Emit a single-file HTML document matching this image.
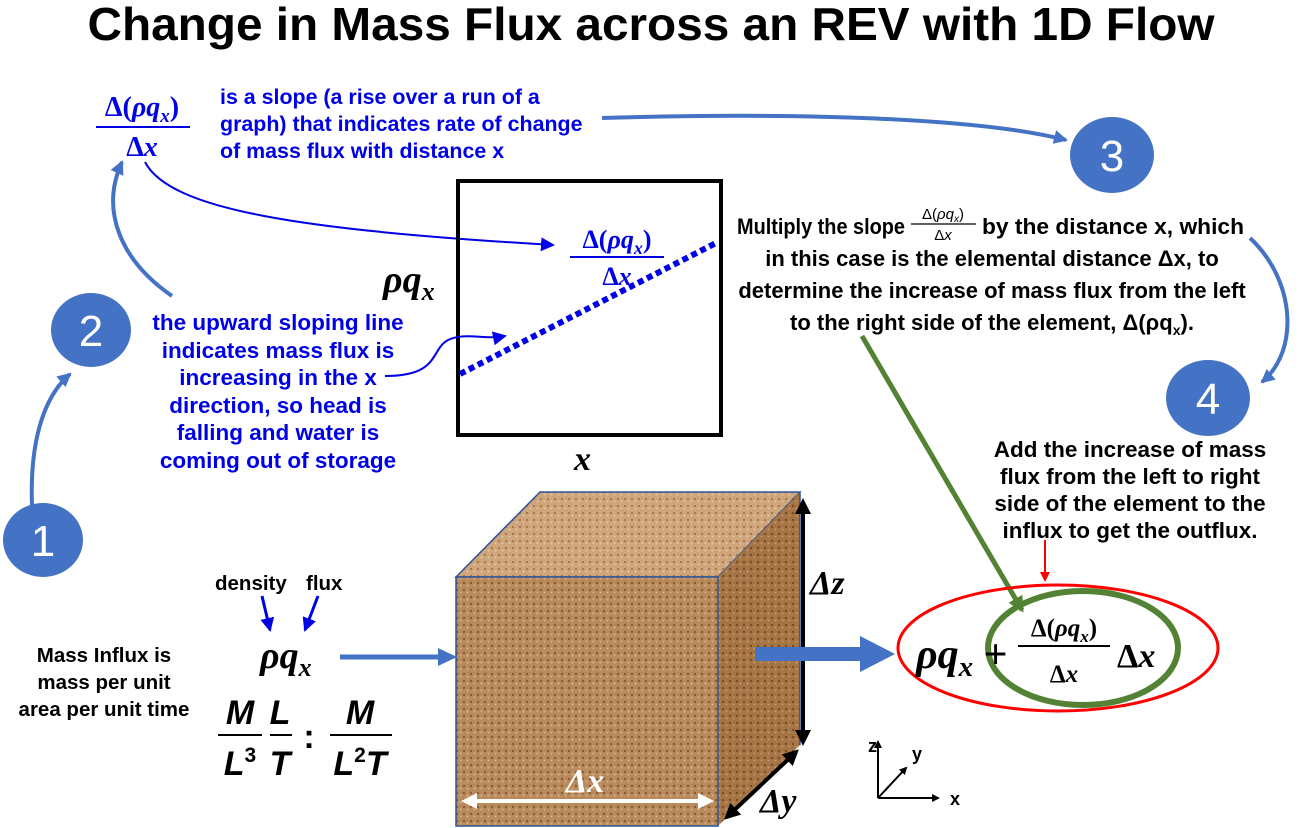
<!DOCTYPE html>
<html><head><meta charset="utf-8"><style>
html,body{margin:0;padding:0;background:#fff;}
svg{display:block;}
text{font-family:"Liberation Sans",sans-serif;}
.b{fill:#0000e6;font-weight:bold;font-size:21.4px;}
.b2{fill:#0000e6;font-weight:bold;font-size:22.5px;}
.k{fill:#000;font-weight:bold;font-size:20.5px;}
.k3{fill:#000;font-weight:bold;font-size:22px;}
.k2{fill:#000;font-weight:bold;font-size:22.5px;}
.m{font-family:"Liberation Serif",serif;font-weight:bold;font-style:italic;}
.c{fill:#fff;font-size:44px;}
</style></head><body>
<svg width="1303" height="828" viewBox="0 0 1303 828" xmlns="http://www.w3.org/2000/svg">
<defs>
<pattern id="dots" width="7" height="7" patternUnits="userSpaceOnUse">
<rect width="7" height="7" fill="#b98a5c"/>
<circle cx="2" cy="2" r="1.2" fill="#8a5a30"/>
<circle cx="5.5" cy="4.5" r="1" fill="#d8b48c"/>
</pattern>
<pattern id="dotsT" width="7" height="7" patternUnits="userSpaceOnUse">
<rect width="7" height="7" fill="#cfa57c"/>
<circle cx="2" cy="2" r="1.1" fill="#a57448"/>
<circle cx="5.5" cy="4.5" r="1" fill="#e6c9a6"/>
</pattern>
<pattern id="dotsR" width="7" height="7" patternUnits="userSpaceOnUse">
<rect width="7" height="7" fill="#a67546"/>
<circle cx="2" cy="2" r="1.2" fill="#7a4c26"/>
<circle cx="5.5" cy="4.5" r="1" fill="#c49a6e"/>
</pattern>
<marker id="ab2" markerWidth="14" markerHeight="14" refX="12" refY="7" orient="auto" markerUnits="userSpaceOnUse"><path d="M0,0 L14,7 L0,14 z" fill="#4472C4"/></marker>
<marker id="abb" markerWidth="14" markerHeight="14" refX="12" refY="7" orient="auto" markerUnits="userSpaceOnUse"><path d="M0,0 L14,7 L0,14 z" fill="#0000e6"/></marker>
<marker id="ag" markerWidth="16" markerHeight="16" refX="13" refY="8" orient="auto" markerUnits="userSpaceOnUse"><path d="M0,0 L16,8 L0,16 z" fill="#548235"/></marker>
<marker id="ar" markerWidth="10" markerHeight="10" refX="8" refY="5" orient="auto" markerUnits="userSpaceOnUse"><path d="M0,0 L10,5 L0,10 z" fill="#f00"/></marker>
<marker id="ak" markerWidth="16" markerHeight="16" refX="12" refY="8" orient="auto-start-reverse" markerUnits="userSpaceOnUse"><path d="M0,0 L16,8 L0,16 z" fill="#000"/></marker>
<marker id="aw" markerWidth="16" markerHeight="16" refX="12" refY="8" orient="auto-start-reverse" markerUnits="userSpaceOnUse"><path d="M0,0 L16,8 L0,16 z" fill="#fff"/></marker>
<marker id="ax" markerWidth="8" markerHeight="8" refX="6" refY="4" orient="auto" markerUnits="userSpaceOnUse"><path d="M0,0 L8,4 L0,8 z" fill="#000"/></marker>
</defs>

<text x="651" y="40" text-anchor="middle" font-size="46" font-weight="bold" textLength="1127" lengthAdjust="spacingAndGlyphs">Change in Mass Flux across an REV with 1D Flow</text>

<!-- top-left fraction -->
<text x="142" y="116" text-anchor="middle" class="m" font-size="28" fill="#0000e6" style="font-style:normal">Δ(<tspan font-style="italic">ρq</tspan><tspan font-style="italic" font-size="19" dy="6">x</tspan><tspan dy="-6">)</tspan></text>
<line x1="96" y1="127" x2="190" y2="127" stroke="#0000e6" stroke-width="2"/>
<text x="142" y="156" text-anchor="middle" class="m" font-size="28" fill="#0000e6" style="font-style:normal">Δ<tspan font-style="italic">x</tspan></text>

<text x="220" y="104" class="b">is a slope (a rise over a run of a</text>
<text x="220" y="131" class="b">graph) that indicates rate of change</text>
<text x="220" y="158" class="b">of mass flux with distance x</text>

<path d="M602,118 C800,112 980,118 1066,140" fill="none" stroke="#4472C4" stroke-width="4" marker-end="url(#ab2)"/>
<path d="M145,162 C170,210 300,230 553,245" fill="none" stroke="#0000e6" stroke-width="2" marker-end="url(#abb)"/>

<!-- circles -->
<ellipse cx="1112" cy="155" rx="42" ry="38" fill="#4472C4"/><text x="1112" y="171" text-anchor="middle" class="c">3</text>
<ellipse cx="91" cy="330" rx="40" ry="37" fill="#4472C4"/><text x="91" y="346" text-anchor="middle" class="c">2</text>
<ellipse cx="43" cy="540" rx="40" ry="37" fill="#4472C4"/><text x="43" y="556" text-anchor="middle" class="c">1</text>
<ellipse cx="1208" cy="398" rx="42" ry="38" fill="#4472C4"/><text x="1208" y="414" text-anchor="middle" class="c">4</text>

<path d="M32,505 C30,450 40,400 70,374" fill="none" stroke="#4472C4" stroke-width="4" marker-end="url(#ab2)"/>
<path d="M172,296 C120,260 100,210 122,162" fill="none" stroke="#4472C4" stroke-width="4" marker-end="url(#ab2)"/>
<path d="M1250,238 C1295,280 1300,350 1262,382" fill="none" stroke="#4472C4" stroke-width="4" marker-end="url(#ab2)"/>

<!-- graph box -->
<rect x="458" y="181" width="263" height="254" fill="none" stroke="#000" stroke-width="4"/>
<line x1="460" y1="374" x2="716" y2="243" stroke="#0000e6" stroke-width="6" stroke-dasharray="6,4"/>
<text x="617" y="248" text-anchor="middle" class="m" font-size="26" fill="#0000e6" style="font-style:normal">Δ(<tspan font-style="italic">ρq</tspan><tspan font-style="italic" font-size="18" dy="6">x</tspan><tspan dy="-6">)</tspan></text>
<line x1="570" y1="257" x2="664" y2="257" stroke="#0000e6" stroke-width="2"/>
<text x="617" y="285" text-anchor="middle" class="m" font-size="26" fill="#0000e6" style="font-style:normal">Δ<tspan font-style="italic">x</tspan></text>
<text x="383" y="292" class="m" font-size="38">ρq<tspan font-size="26" dy="8">x</tspan></text>
<text x="574" y="470" class="m" font-size="34">x</text>
<path d="M385,376 C440,376 430,350 448,340 C465,332 485,340 505,336" fill="none" stroke="#0000e6" stroke-width="2" marker-end="url(#abb)"/>

<g text-anchor="middle">
<text x="278" y="330" class="b2">the upward sloping line</text>
<text x="278" y="358" class="b2">indicates mass flux is</text>
<text x="278" y="385" class="b2">increasing in the x</text>
<text x="278" y="413" class="b2">direction, so head is</text>
<text x="278" y="440" class="b2">falling and water is</text>
<text x="278" y="468" class="b2">coming out of storage</text>

<text x="992" y="266" class="k3">in this case is the elemental distance Δx, to</text>
<text x="992" y="298" class="k3">determine the increase of mass flux from the left</text>
<text x="992" y="330" class="k3">to the right side of the element, Δ(ρq<tspan font-size="14" dy="5">x</tspan><tspan dy="-5">).</tspan></text>

<text x="1130" y="457" class="k2">Add the increase of mass</text>
<text x="1130" y="484" class="k2">flux from the left to right</text>
<text x="1130" y="511" class="k2">side of the element to the</text>
<text x="1130" y="538" class="k2">influx to get the outflux.</text>
</g>
<text x="737" y="234" class="k3" textLength="168" lengthAdjust="spacingAndGlyphs">Multiply the slope</text>
<text x="982" y="234" class="k3" textLength="262" lengthAdjust="spacingAndGlyphs">by the distance x, which</text>
<!-- small slope fraction inline -->
<text x="943" y="219" text-anchor="middle" font-family="Liberation Serif" font-size="15">Δ(<tspan font-style="italic">ρq</tspan><tspan font-style="italic" font-size="10" dy="3">x</tspan><tspan dy="-3">)</tspan></text>
<line x1="911" y1="224" x2="976" y2="224" stroke="#000" stroke-width="1.2"/>
<text x="943" y="240" text-anchor="middle" font-family="Liberation Serif" font-size="15">Δ<tspan font-style="italic">x</tspan></text>

<line x1="862" y1="336" x2="1022" y2="610" stroke="#548235" stroke-width="5" marker-end="url(#ag)"/>
<line x1="1045" y1="540" x2="1045" y2="580" stroke="#f00" stroke-width="2" marker-end="url(#ar)"/>

<!-- ellipses -->
<ellipse cx="1058" cy="648" rx="160" ry="63" fill="none" stroke="#f00" stroke-width="3"/>
<ellipse cx="1083" cy="648" rx="95" ry="57" fill="none" stroke="#548235" stroke-width="6"/>
<text x="916" y="668" class="m" font-size="42" style="font-style:normal"><tspan font-style="italic">ρq</tspan><tspan font-style="italic" font-size="29" dy="8">x</tspan><tspan dy="-8"> +</tspan></text>
<text x="1064" y="636" text-anchor="middle" class="m" font-size="25" style="font-style:normal">Δ(<tspan font-style="italic">ρq</tspan><tspan font-style="italic" font-size="17" dy="6">x</tspan><tspan dy="-6">)</tspan></text>
<line x1="1018" y1="646" x2="1110" y2="646" stroke="#000" stroke-width="2"/>
<text x="1064" y="682" text-anchor="middle" class="m" font-size="25" style="font-style:normal">Δ<tspan font-style="italic">x</tspan></text>
<text x="1117" y="667" class="m" font-size="34" style="font-style:normal">Δ<tspan font-style="italic">x</tspan></text>

<!-- cube -->
<polygon points="456,577 540,492 800,492 718,577" fill="url(#dotsT)" stroke="#2e5597" stroke-width="1.5"/>
<polygon points="718,577 800,492 800,745 718,826" fill="url(#dotsR)"/>
<rect x="456" y="577" width="262" height="249" fill="url(#dots)" stroke="#2e5597" stroke-width="1.5"/>
<line x1="800" y1="492" x2="800" y2="745" stroke="#2e5597" stroke-width="1.5"/>
<line x1="803" y1="502" x2="803" y2="742" stroke="#000" stroke-width="4" marker-start="url(#ak)" marker-end="url(#ak)"/>
<line x1="727" y1="817" x2="796" y2="752" stroke="#000" stroke-width="4" marker-start="url(#ak)" marker-end="url(#ak)"/>
<line x1="465" y1="801" x2="710" y2="801" stroke="#fff" stroke-width="4" marker-start="url(#aw)" marker-end="url(#aw)"/>
<text x="585" y="792" text-anchor="middle" class="m" font-size="34" fill="#fff">Δx</text>
<text x="810" y="594" class="m" font-size="34">Δz</text>
<text x="760" y="812" class="m" font-size="34">Δy</text>

<!-- big blue arrow -->
<line x1="755" y1="654" x2="865" y2="654" stroke="#4472C4" stroke-width="14"/>
<polygon points="860,636 895,654 860,672" fill="#4472C4"/>
<line x1="340" y1="657" x2="440" y2="657" stroke="#4472C4" stroke-width="5"/>
<polygon points="438,648 457,657 438,666" fill="#4472C4"/>

<!-- left labels -->
<text x="215" y="590" class="k">density</text>
<text x="306" y="590" class="k">flux</text>
<line x1="262" y1="596" x2="270" y2="630" stroke="#0000e6" stroke-width="3" marker-end="url(#abb)"/>
<line x1="318" y1="596" x2="305" y2="630" stroke="#0000e6" stroke-width="3" marker-end="url(#abb)"/>
<text x="260" y="668" class="m" font-size="38">ρq<tspan font-size="26" dy="8">x</tspan></text>
<g text-anchor="middle">
<text x="104" y="662" class="k">Mass Influx is</text>
<text x="104" y="689" class="k">mass per unit</text>
<text x="104" y="716" class="k">area per unit time</text>
</g>
<g class="m" font-size="34" style="font-style:normal" text-anchor="middle">
<text x="240" y="724" font-style="italic">M</text>
<line x1="218" y1="735" x2="262" y2="735" stroke="#000" stroke-width="2"/>
<text x="240" y="775" font-style="italic">L<tspan font-size="21" font-style="normal" dy="-13">3</tspan></text>
<text x="280" y="724" font-style="italic">L</text>
<line x1="270" y1="735" x2="292" y2="735" stroke="#000" stroke-width="2"/>
<text x="280" y="775" font-style="italic">T</text>
<text x="309" y="748">:</text>
<text x="360" y="724" font-style="italic">M</text>
<line x1="330" y1="735" x2="392" y2="735" stroke="#000" stroke-width="2"/>
<text x="360" y="775" font-style="italic">L<tspan font-size="21" font-style="normal" dy="-13">2</tspan><tspan dy="13">T</tspan></text>
</g>

<!-- axes -->
<line x1="878" y1="798" x2="878" y2="742" stroke="#000" stroke-width="2" marker-end="url(#ax)"/>
<line x1="878" y1="798" x2="938" y2="798" stroke="#000" stroke-width="2" marker-end="url(#ax)"/>
<line x1="878" y1="798" x2="906" y2="768" stroke="#000" stroke-width="2" marker-end="url(#ax)"/>
<text x="868" y="752" font-size="18" font-weight="bold">z</text>
<text x="912" y="760" font-size="18" font-weight="bold">y</text>
<text x="950" y="805" font-size="18" font-weight="bold">x</text>
</svg>
</body></html>
